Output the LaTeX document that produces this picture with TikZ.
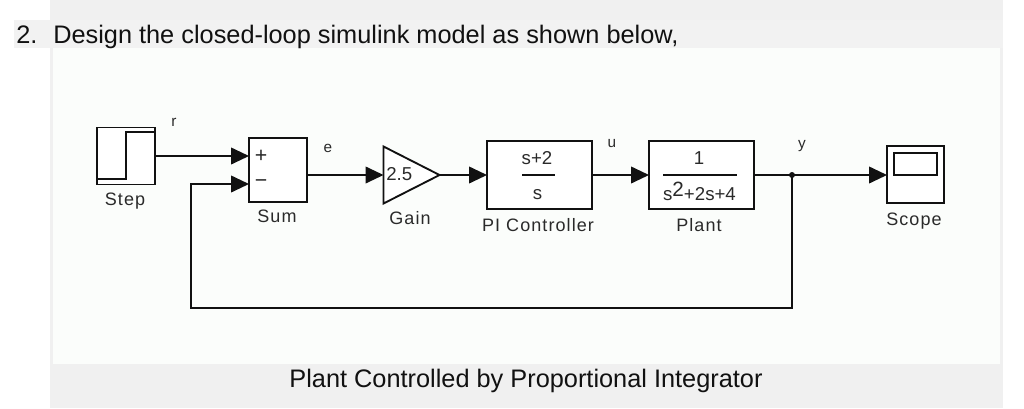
\documentclass[tikz,border=0pt]{standalone}
\usepackage{fontspec}
\usetikzlibrary{arrows.meta,shapes.geometric,calc}
\setmainfont{Liberation Sans}
\newfontfamily\blk[LetterSpace=6]{Liberation Sans}
\newfontfamily\blktight{Liberation Sans}
\definecolor{bandgray}{HTML}{F0F0F0}
\definecolor{stripgray}{HTML}{F2F2F2}
\definecolor{panel}{HTML}{FBFDFB}
\definecolor{ink}{HTML}{111111}
\definecolor{lbl}{HTML}{2A2A2A}
\tikzset{
  x=0.75pt,y=-0.75pt,
  block/.style={draw=ink,line width=1.4pt,rectangle,inner sep=0pt,outer sep=0pt,fill=white},
  wire/.style={draw=ink,line width=1.4pt},
  sig/.style={wire,-{Triangle[length=13.5pt,width=12.5pt]}},
  blocklabel/.style={font=\blk\fontsize{13.5}{15}\selectfont,text=lbl,inner sep=0pt,anchor=base},
  siglabel/.style={font=\blktight\fontsize{11.5}{13}\selectfont,text=lbl,inner sep=0pt,anchor=base},
  inblock/.style={font=\blktight\fontsize{14}{15}\selectfont,text=lbl,inner sep=0pt},
  bigtext/.style={font=\fontsize{19}{22}\selectfont,text=ink,inner sep=0pt},
}
\begin{document}
\begin{tikzpicture}
\useasboundingbox (0,0) rectangle (1024,408);
\fill[white] (0,0) rectangle (1024,408);
\fill[bandgray] (50,0) rectangle (1002.5,408);
\fill[stripgray] (13.5,19.5) rectangle (1002.5,48);
\fill[panel] (53,48) rectangle (1000,364);

\node[bigtext,anchor=base west] (num) at (16,43) {2.};
\node[bigtext,anchor=base west] (title) at (53,43) {Design the closed-loop simulink model as shown below,};
\node[bigtext,anchor=base] (caption) at (526,387) {Plant Controlled by Proportional Integrator};

% blocks
\node[block,minimum width=43.5pt,minimum height=42.75pt] (step) at (126,156) {};
\node[block,minimum width=43.5pt,minimum height=48pt] (sum) at (278,170) {};
\node[draw=ink,line width=1.4pt,isosceles triangle,isosceles triangle stretches,shape border rotate=0,
  minimum width=42.75pt,minimum height=42pt,inner sep=0pt,outer sep=0pt,fill=white] (gain) at (401,175) {};
\node[block,minimum width=78.75pt,minimum height=51pt] (pi) at (539.5,175) {};
\node[block,minimum width=78.75pt,minimum height=51pt] (plant) at (701.5,175) {};
\node[block,minimum width=42.75pt,minimum height=42.75pt] (scope) at (915.5,174.5) {};
\node[draw=ink,line width=1.4pt,rectangle,inner sep=0pt,minimum width=32pt,minimum height=16.5pt] (screen) at (915.5,164) {};

% step icon
\draw[wire,line width=1.2pt] (97,179) -- (126,179) -- (126,132) -- (155,132);

% inner texts
\node[font=\blktight\fontsize{16}{16}\selectfont,text=lbl,inner sep=0pt] (plus) at (261,156) {+};
\node[font=\blktight\fontsize{16}{16}\selectfont,text=lbl,inner sep=0pt] (minus) at (261,184) {\textminus};
\node[inblock,anchor=base west] (gainval) at (386,180) {2.5};
\node[inblock,anchor=base] (pinum) at (537,164) {s+2};
\coordinate (pibarL) at (522,175);
\coordinate (pibarR) at (555,175);
\node[inblock,anchor=base] (piden) at (537.5,199) {s};
\node[inblock,anchor=base] (plnum) at (699,164) {1};
\coordinate (plbarL) at (663,175);
\coordinate (plbarR) at (737,175);
\node[inblock,anchor=base] (plden) at (699.5,200) {s\raisebox{2.5pt}{\fontsize{15.5}{15}\selectfont 2}+2s+4};
\draw[wire] (pibarL) -- (pibarR);
\draw[wire] (plbarL) -- (plbarR);

% labels
\node[blocklabel] (steplbl) at (125,205) {Step};
\node[blocklabel] (sumlbl) at (277,222.5) {Sum};
\node[blocklabel] (gainlbl) at (410,224) {Gain};
\node[blocklabel] (pilbl) at (538,231) {PI Controller};
\node[blocklabel] (plantlbl) at (699,231) {Plant};
\node[blocklabel] (scopelbl) at (914,225) {Scope};
\node[siglabel] (r) at (174,126) {r};
\node[siglabel] (e) at (328,152) {e};
\node[siglabel] (u) at (612,147) {u};
\node[siglabel] (y) at (802,148) {y};

% connectors
\coordinate (summinus) at (249,184);
\coordinate (corner) at (191,184);
\coordinate (fbdown) at (191,308);
\coordinate (jbottom) at (792,308);
\coordinate (junction) at (792,175);
\draw[sig] (step.east) -- (sum.west |- step.east);
\draw[sig] (sum.east |- gain.lower side) -- (gain.lower side);
\draw[sig] (gain.apex) -- (pi.west);
\draw[sig] (pi.east) -- (plant.west);
\draw[sig] (plant.east) -- (scope.west |- plant.east);
\draw[sig] (junction) -- (jbottom) -- (fbdown) -- (corner) -- (summinus);
\fill[ink] (junction) circle (3);
\end{tikzpicture}
\end{document}
